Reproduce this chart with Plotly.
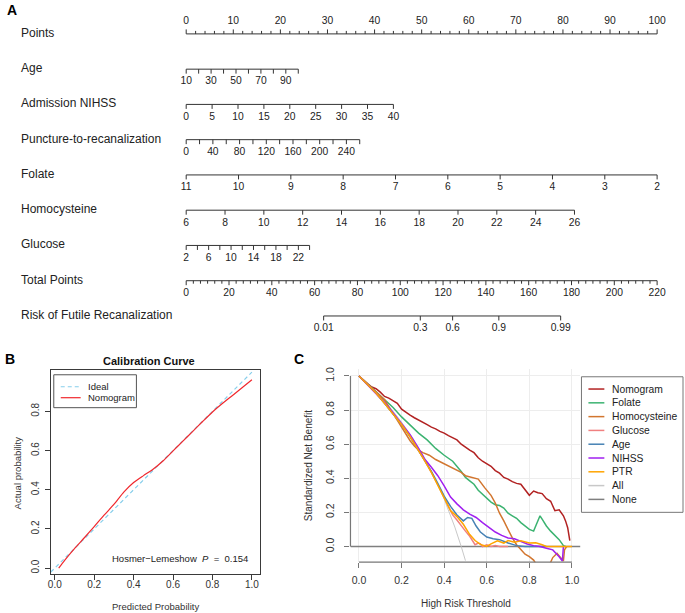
import math
import plotly.graph_objects as go

W, H = 685, 613
FONT = "Liberation Sans, Arial, Helvetica, sans-serif"

# ---------------- Panel A : nomogram data ----------------
row_names = ["Points", "Age", "Admission NIHSS", "Puncture-to-recanalization", "Folate",
             "Homocysteine", "Glucose", "Total Points", "Risk of Futile Recanalization"]

points_ticks = list(range(0, 101, 2))
points_labels = list(range(0, 101, 10))

age_range, age_pts = [10, 100], [0, 23.8]
age_ticks = list(range(10, 101, 10))
age_labels = [10, 30, 50, 70, 90]

nihss_range, nihss_pts = [0, 40], [0, 44.0]
nihss_ticks = list(range(0, 41, 5))
nihss_labels = list(range(0, 41, 5))

ptr_range, ptr_pts = [0, 260], [0, 36.85]
ptr_ticks = list(range(0, 261, 20))
ptr_labels = [0, 40, 80, 120, 160, 200, 240]

folate_range, folate_pts = [11, 2], [0, 100]
folate_ticks = list(range(11, 1, -1))
folate_labels = list(range(11, 1, -1))

hcy_range, hcy_pts = [6, 26], [0, 82.45]
hcy_ticks = list(range(6, 27, 2))
hcy_labels = list(range(6, 27, 2))

glu_range, glu_pts = [2, 24], [0, 26.2]
glu_ticks = list(range(2, 25, 2))
glu_labels = [2, 6, 10, 14, 18, 22]

total_range, total_pts = [0, 220], [0, 100]
total_ticks = [i * 10 / 3 for i in range(0, 67)]
total_labels = list(range(0, 221, 20))

risk_labels = [0.01, 0.3, 0.6, 0.9, 0.99]
risk_text = ["0.01", "0.3", "0.6", "0.9", "0.99"]
risk_intercept, risk_slope = -9.925, 0.0830   # logit(risk) = a + b * total points

# ---------------- Panel B : calibration data ----------------
ideal_xy = [-0.02, 1.0]
calib_pred = [0.02, 0.05, 0.10, 0.15, 0.20, 0.25, 0.30, 0.35, 0.40, 0.45, 0.50,
              0.55, 0.60, 0.65, 0.70, 0.75, 0.80, 0.85, 0.90, 0.95, 1.00]
calib_actual = [0.00, 0.04, 0.10, 0.155, 0.212, 0.27, 0.325, 0.388, 0.437, 0.472, 0.506,
                0.548, 0.598, 0.648, 0.698, 0.748, 0.797, 0.84, 0.88, 0.92, 0.961]

# ---------------- Panel C : decision curves ----------------
nom_t = [0, 0.02, 0.04, 0.06, 0.08, 0.10, 0.12, 0.14, 0.16, 0.18, 0.20, 0.22, 0.24, 0.26,
         0.28, 0.30, 0.32, 0.34, 0.36, 0.38, 0.40, 0.42, 0.44, 0.46, 0.48, 0.50, 0.52, 0.54,
         0.56, 0.58, 0.60, 0.62, 0.64, 0.66, 0.68, 0.70, 0.72, 0.74, 0.76, 0.78, 0.80, 0.82,
         0.84, 0.86, 0.88, 0.90, 0.92, 0.94, 0.96, 0.97, 0.98, 0.99]
nom_nb = [1.0, 0.975, 0.955, 0.935, 0.925, 0.905, 0.88, 0.87, 0.855, 0.84, 0.805, 0.785,
          0.77, 0.755, 0.74, 0.725, 0.715, 0.70, 0.69, 0.675, 0.665, 0.65, 0.635, 0.625,
          0.60, 0.58, 0.565, 0.55, 0.52, 0.50, 0.485, 0.47, 0.445, 0.43, 0.405, 0.395, 0.38,
          0.37, 0.365, 0.335, 0.30, 0.325, 0.315, 0.31, 0.28, 0.265, 0.21, 0.215, 0.18,
          0.15, 0.11, 0.035]

fol_t = [0, 0.04, 0.08, 0.12, 0.16, 0.20, 0.24, 0.28, 0.32, 0.36, 0.40, 0.44, 0.48, 0.50,
         0.52, 0.54, 0.56, 0.58, 0.60, 0.62, 0.64, 0.66, 0.68, 0.70, 0.72, 0.74, 0.76, 0.78,
         0.80, 0.82, 0.84, 0.85, 0.86, 0.88, 0.90, 0.92, 0.94, 0.96, 0.97]
fol_nb = [1.0, 0.955, 0.91, 0.865, 0.815, 0.76, 0.71, 0.665, 0.625, 0.575, 0.535, 0.50,
          0.44, 0.405, 0.385, 0.365, 0.33, 0.305, 0.28, 0.26, 0.245, 0.24, 0.225, 0.195,
          0.18, 0.165, 0.14, 0.12, 0.10, 0.09, 0.15, 0.18, 0.16, 0.12, 0.09, 0.065, 0.04,
          0.005, 0.0]

hcy_t = [0, 0.04, 0.08, 0.12, 0.14, 0.16, 0.18, 0.20, 0.22, 0.24, 0.26, 0.28, 0.30, 0.33,
         0.36, 0.40, 0.44, 0.48, 0.50, 0.53, 0.56, 0.59, 0.62, 0.64, 0.66, 0.68, 0.70, 0.72,
         0.74, 0.76, 0.78, 0.80, 0.82, 0.84, 0.87, 0.89, 0.91, 0.93, 0.95, 0.96, 0.965, 0.975]
hcy_nb = [1.0, 0.955, 0.91, 0.86, 0.82, 0.78, 0.74, 0.70, 0.66, 0.62, 0.59, 0.565, 0.55,
          0.535, 0.51, 0.485, 0.46, 0.435, 0.415, 0.405, 0.395, 0.345, 0.30, 0.255, 0.195,
          0.15, 0.10, 0.05, 0.01, -0.02, -0.045, -0.06, -0.08, -0.12, -0.15, -0.12, -0.065,
          -0.04, -0.07, -0.085, -0.02, 0.0]

glu_t = [0, 0.04, 0.08, 0.12, 0.16, 0.20, 0.24, 0.28, 0.31, 0.34, 0.37, 0.40, 0.42, 0.44,
         0.46, 0.48, 0.50, 0.52, 0.545, 0.56, 0.57, 0.58, 0.60, 0.62, 0.64, 0.66, 0.68, 0.70]
glu_nb = [1.0, 0.95, 0.9, 0.84, 0.78, 0.715, 0.645, 0.565, 0.5, 0.435, 0.365, 0.29, 0.235,
          0.185, 0.155, 0.12, 0.09, 0.06, 0.01, 0.02, 0.015, 0.0, 0.01, 0.0, 0.005, 0.0,
          0.0, 0.0]

age_t = [0, 0.04, 0.08, 0.12, 0.16, 0.20, 0.24, 0.28, 0.31, 0.34, 0.37, 0.40, 0.43, 0.46,
         0.49, 0.51, 0.53, 0.55, 0.57, 0.60, 0.63, 0.66, 0.70, 0.74, 0.78, 0.82, 0.86, 0.88]
age_nb = [1.0, 0.95, 0.9, 0.84, 0.78, 0.715, 0.645, 0.565, 0.5, 0.44, 0.37, 0.295, 0.235,
          0.185, 0.15, 0.17, 0.165, 0.12, 0.085, 0.055, 0.045, 0.04, 0.02, 0.005, 0.0, 0.0,
          0.0, 0.0]

nih_t = [0, 0.04, 0.08, 0.12, 0.16, 0.20, 0.24, 0.28, 0.31, 0.34, 0.37, 0.40, 0.43, 0.46,
         0.49, 0.52, 0.55, 0.58, 0.61, 0.64, 0.67, 0.70, 0.73, 0.76, 0.79, 0.82, 0.85, 0.88,
         0.91, 0.94, 0.955, 0.96]
nih_nb = [1.0, 0.95, 0.9, 0.845, 0.785, 0.72, 0.655, 0.575, 0.51, 0.465, 0.415, 0.355,
          0.29, 0.25, 0.215, 0.19, 0.17, 0.14, 0.11, 0.085, 0.065, 0.05, 0.045, 0.03, 0.015,
          0.005, 0.0, -0.01, -0.02, -0.06, -0.085, 0.0]

ptr_t = [0, 0.04, 0.08, 0.12, 0.16, 0.20, 0.24, 0.28, 0.31, 0.34, 0.37, 0.40, 0.43, 0.46,
         0.49, 0.52, 0.545, 0.57, 0.60, 0.62, 0.65, 0.68, 0.70, 0.73, 0.76, 0.80, 0.83, 0.86,
         0.88, 1.0]
ptr_nb = [1.0, 0.95, 0.9, 0.84, 0.78, 0.715, 0.645, 0.565, 0.5, 0.435, 0.36, 0.28, 0.21,
          0.175, 0.13, 0.07, 0.035, 0.012, 0.0, 0.015, 0.033, 0.02, 0.035, 0.025, 0.033,
          0.02, 0.022, 0.01, 0.0, 0.0]

all_t = [0, 0.05, 0.10, 0.15, 0.20, 0.25, 0.30, 0.35, 0.40, 0.45, 0.48, 0.50]
all_nb = [1.0, 0.943, 0.880, 0.809, 0.729, 0.639, 0.536, 0.417, 0.278, 0.114, 0.0, -0.083]

none_t = [-0.04, 1.04]
none_nb = [0, 0]

dca_names = ["Nomogram", "Folate", "Homocysteine", "Glucose", "Age", "NIHSS", "PTR", "All", "None"]
dca_colors = ["#B22222", "#3CB371", "#D2762F", "#F08080", "#4682B4", "#A020F0", "#FFA500",
              "#C8C8C8", "#7F7F7F"]

# ---------------- figure ----------------
fig = go.Figure()

ROW_PX = 35.375           # pixel distance between nomogram rows
def rows(px):
    return px / ROW_PX

def lin(v, vr, pr):
    return pr[0] + (v - vr[0]) / (vr[1] - vr[0]) * (pr[1] - pr[0])

LINE_C = "#333333"

def add_scale(r, ticks_pts, label_pts, label_txt, lo, hi, up=False, major_pts=None):
    d = -1 if up else 1
    fig.add_trace(go.Scatter(x=[lo, hi], y=[r, r], mode="lines",
                             line=dict(color=LINE_C, width=1), xaxis="x", yaxis="y",
                             showlegend=False, hoverinfo="skip"))
    tx, ty = [], []
    majors = set(round(v, 6) for v in (major_pts if major_pts is not None else label_pts))
    for p in ticks_pts:
        ln = 4.5 if round(p, 6) in majors else 3.0
        tx += [p, p, None]
        ty += [r, r + d * rows(ln), None]
    fig.add_trace(go.Scatter(x=tx, y=ty, mode="lines", line=dict(color=LINE_C, width=1),
                             xaxis="x", yaxis="y", showlegend=False, hoverinfo="skip"))
    fig.add_trace(go.Scatter(x=label_pts, y=[r + d * rows(12.8)] * len(label_pts),
                             mode="text", text=label_txt,
                             textfont=dict(family=FONT, size=10.3, color="#222222"),
                             xaxis="x", yaxis="y", showlegend=False, hoverinfo="skip"))

# Points
add_scale(0, points_ticks, points_labels, [str(v) for v in points_labels], 0, 100, up=True)
# Age
f = lambda v: lin(v, age_range, age_pts)
add_scale(1, [f(v) for v in age_ticks], [f(v) for v in age_labels], [str(v) for v in age_labels],
          f(age_range[0]), f(age_range[1]), major_pts=[f(v) for v in age_ticks])
# NIHSS
f = lambda v: lin(v, nihss_range, nihss_pts)
add_scale(2, [f(v) for v in nihss_ticks], [f(v) for v in nihss_labels], [str(v) for v in nihss_labels],
          f(nihss_range[0]), f(nihss_range[1]))
# PTR
f = lambda v: lin(v, ptr_range, ptr_pts)
add_scale(3, [f(v) for v in ptr_ticks], [f(v) for v in ptr_labels], [str(v) for v in ptr_labels],
          f(ptr_range[0]), f(ptr_range[1]), major_pts=[f(v) for v in ptr_ticks])
# Folate
f = lambda v: lin(v, folate_range, folate_pts)
add_scale(4, [f(v) for v in folate_ticks], [f(v) for v in folate_labels], [str(v) for v in folate_labels],
          f(folate_range[0]), f(folate_range[1]))
# Homocysteine
f = lambda v: lin(v, hcy_range, hcy_pts)
add_scale(5, [f(v) for v in hcy_ticks], [f(v) for v in hcy_labels], [str(v) for v in hcy_labels],
          f(hcy_range[0]), f(hcy_range[1]))
# Glucose
f = lambda v: lin(v, glu_range, glu_pts)
add_scale(6, [f(v) for v in glu_ticks], [f(v) for v in glu_labels], [str(v) for v in glu_labels],
          f(glu_range[0]), f(glu_range[1]), major_pts=[f(v) for v in glu_ticks])
# Total points
f = lambda v: lin(v, total_range, total_pts)
add_scale(7, [f(v) for v in total_ticks], [f(v) for v in total_labels], [str(v) for v in total_labels],
          f(total_range[0]), f(total_range[1]))
# Risk
def risk_to_pts(p):
    tot = (math.log(p / (1 - p)) - risk_intercept) / risk_slope
    return lin(tot, total_range, total_pts)
rp = [risk_to_pts(p) for p in risk_labels]
add_scale(8, rp, rp, risk_text, rp[0], rp[-1])

# panel A axes: points 0..100 -> pixels 184..657 ; rows 0..8 -> pixels 32..315
px_per_pt = (657 - 184) / 100
fig.update_layout(
    xaxis=dict(domain=[0, 1], range=[-184 / px_per_pt, (W - 184) / px_per_pt], visible=False,
               fixedrange=True),
    yaxis=dict(domain=[0, 1], range=[(H - 32) / ROW_PX, -32 / ROW_PX], visible=False,
               fixedrange=True),
)

def ann(text, x, y, size, color="#222222", xanchor="center", yanchor="middle", **kw):
    d = dict(text=text, xref=kw.pop("xref", "paper"), yref=kw.pop("yref", "paper"),
             x=x, y=y, xanchor=xanchor, yanchor=yanchor, showarrow=False,
             font=dict(family=FONT, size=size, color=color), borderpad=0)
    d.update(kw)
    return d

annotations = []
for i, name in enumerate(row_names):
    annotations.append(ann(name, 17 / W, i - rows(1), 12, xanchor="left", yref="y"))

# ---------------- Panel B ----------------
fig.add_trace(go.Scatter(x=ideal_xy, y=ideal_xy, mode="lines", name="Ideal",
                         line=dict(color="#87CEEB", width=1.2, dash="4px,3px"),
                         xaxis="x2", yaxis="y2", showlegend=False))
fig.add_trace(go.Scatter(x=calib_pred, y=calib_actual, mode="lines", name="Nomogram",
                         line=dict(color="#F0282D", width=1.2, shape="spline", smoothing=0.6),
                         xaxis="x2", yaxis="y2", showlegend=False))

axB = dict(showline=True, mirror=True, linecolor="#3A3A3A", linewidth=1, ticks="outside",
           ticklen=5, tickcolor="#3A3A3A", showgrid=False, zeroline=False,
           tickfont=dict(family=FONT, size=10, color="#333333"), fixedrange=True)
fig.update_layout(
    xaxis2=dict(domain=[48 / W, 258 / W], range=[-0.0202, 1.0404], anchor="y2",
                tickvals=[0, 0.2, 0.4, 0.6, 0.8, 1.0], ticklabelstandoff=-4,
                ticktext=["0.0", "0.2", "0.4", "0.6", "0.8", "1.0"], **axB),
    yaxis2=dict(domain=[1 - 574 / H, 1 - 369 / H], range=[-0.0306, 1.012], anchor="x2",
                tickvals=[0, 0.2, 0.4, 0.6, 0.8], ticklabelstandoff=2,
                ticktext=["0.0", "0.2", "0.4", "0.6", "0.8"], tickangle=-90, **axB),
)

annotations += [
    ann("<b>Calibration Curve</b>", 147 / W, 1 - 360 / H, 11, color="#111111"),
    ann("Predicted Probability", 153 / W, 1 - 606 / H, 9.5, color="#333333"),
    ann("Actual probability", 15 / W, 1 - 472 / H, 9.5, color="#333333", textangle=-90),
    ann("Hosmer\u2212Lemeshow\u00a0\u00a0<i>P</i>\u00a0\u00a0=\u00a0\u00a00.154", 178 / W,
        1 - 558 / H, 9.5),
    ann("Ideal", 84 / W, 1 - 386 / H, 9.5, xanchor="left"),
    ann("Nomogram", 84 / W, 1 - 397 / H, 9.5, xanchor="left"),
]

shapes = [
    dict(type="rect", xref="paper", yref="paper", x0=51 / W, x1=134 / W, y0=1 - 407 / H,
         y1=1 - 374 / H, line=dict(color="#555555", width=1)),
    dict(type="line", xref="paper", yref="paper", x0=58 / W, x1=78 / W, y0=1 - 386 / H,
         y1=1 - 386 / H, line=dict(color="#87CEEB", width=1.2, dash="4px,3px")),
    dict(type="line", xref="paper", yref="paper", x0=58 / W, x1=78 / W, y0=1 - 397 / H,
         y1=1 - 397 / H, line=dict(color="#F0282D", width=1.2)),
]

# ---------------- Panel C ----------------
series = [(nom_t, nom_nb), (fol_t, fol_nb), (hcy_t, hcy_nb), (glu_t, glu_nb), (age_t, age_nb),
          (nih_t, nih_nb), (ptr_t, ptr_nb), (all_t, all_nb), (none_t, none_nb)]
draw_order = [8, 7, 0, 1, 2, 3, 4, 5, 6]
for k in draw_order:
    t, nb = series[k]
    wdt = 1.0 if dca_names[k] == "All" else 1.5
    fig.add_trace(go.Scatter(x=t, y=nb, mode="lines", name=dca_names[k],
                             line=dict(color=dca_colors[k], width=wdt),
                             xaxis="x3", yaxis="y3", showlegend=False))

axC = dict(showline=False, ticks="outside", ticklen=5, tickcolor="#777777", tickwidth=1,
           showgrid=True, gridcolor="#EDEDED", gridwidth=1, zeroline=False,
           tickfont=dict(family=FONT, size=10.5, color="#333333"), fixedrange=True)
fig.update_layout(
    xaxis3=dict(domain=[349 / W, 580 / W], range=[-0.04, 1.04], anchor="y3",
                tickvals=[0, 0.2, 0.4, 0.6, 0.8, 1.0], ticklabelstandoff=3,
                ticktext=["0.0", "0.2", "0.4", "0.6", "0.8", "1.0"], **axC),
    yaxis3=dict(domain=[1 - 562 / H, 1 - 368 / H], range=[-0.092, 1.042], anchor="x3",
                tickvals=[0, 0.2, 0.4, 0.6, 0.8, 1.0], ticklabelstandoff=6,
                ticktext=["0.0", "0.2", "0.4", "0.6", "0.8", "1.0"], tickangle=-90, **axC),
)
shapes += [
    dict(type="line", xref="x3", yref="paper", x0=0, x1=1, y0=1 - 562 / H, y1=1 - 562 / H,
         line=dict(color="#777777", width=1.2)),
    dict(type="line", xref="paper", yref="y3", x0=349 / W, x1=349 / W, y0=0, y1=1,
         line=dict(color="#777777", width=1.2)),
    dict(type="rect", xref="paper", yref="paper", x0=581 / W, x1=683 / W, y0=1 - 512 / H,
         y1=1 - 376 / H, line=dict(color="#777777", width=1)),
]
for i, name in enumerate(dca_names):
    yy = 1 - (388.3 + 13.84 * i) / H
    shapes.append(dict(type="line", xref="paper", yref="paper", x0=588 / W, x1=604 / W,
                       y0=yy, y1=yy, line=dict(color=dca_colors[i], width=1.5)))
    annotations.append(ann(name, 611 / W, yy, 10.3, xanchor="left"))

annotations += [
    ann("High Risk Threshold", 465 / W, 1 - 603 / H, 10, color="#333333"),
    ann("Standardized Net Benefit", 307 / W, 1 - 465 / H, 10, color="#333333", textangle=-90),
    ann("<b>A</b>", 9 / W, 1 - 8 / H, 14, color="#000000"),
    ann("<b>B</b>", 7 / W, 1 - 358 / H, 14, color="#000000"),
    ann("<b>C</b>", 297 / W, 1 - 358 / H, 14, color="#000000"),
]

fig.update_layout(width=W, height=H, margin=dict(l=0, r=0, t=0, b=0),
                  paper_bgcolor="white", plot_bgcolor="rgba(0,0,0,0)",
                  font=dict(family=FONT), showlegend=False,
                  annotations=annotations, shapes=shapes)

fig.write_html("out.html", include_plotlyjs=True, config={"displayModeBar": False})
